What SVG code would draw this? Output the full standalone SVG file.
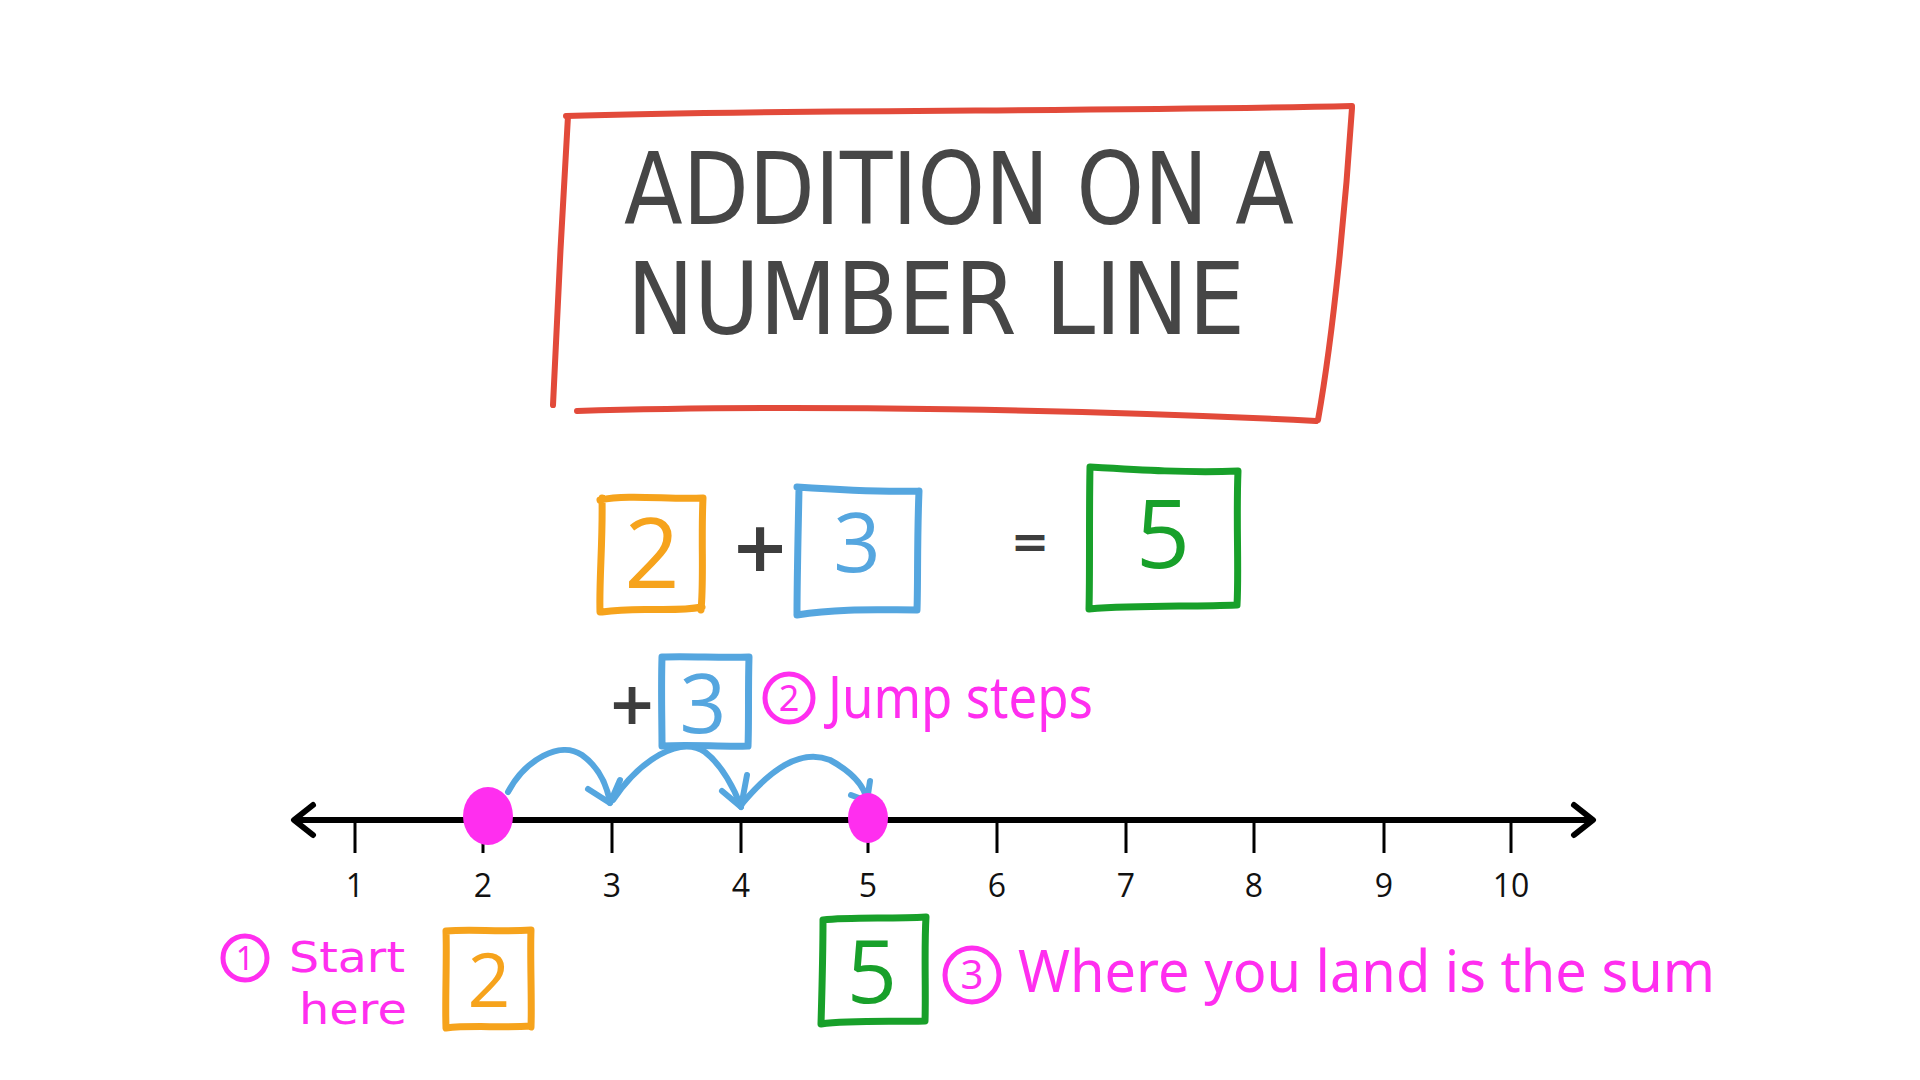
<svg xmlns="http://www.w3.org/2000/svg" width="1920" height="1080" viewBox="0 0 1920 1080">
<defs>
<style>
.hand{fill:none;stroke-linecap:round;stroke-linejoin:round}
.red{stroke:#E24A3A;stroke-width:6}
.org{stroke:#F6A31C;stroke-width:7}
.blu{stroke:#55A6DF;stroke-width:7}
.grn{stroke:#18A02A;stroke-width:7}
.mag{stroke:#FF2EEF;stroke-width:5}
.title{font-family:"DejaVu Sans",sans-serif;font-size:100px;fill:#464646}
.dig{font-family:"Open Sans","DejaVu Sans",sans-serif;text-anchor:middle}
.op{font-family:"DejaVu Sans",sans-serif;font-weight:bold;fill:#3d3d3d;text-anchor:middle}
.note{font-family:"Noto Sans","DejaVu Sans",sans-serif;fill:#FF2EEF}
.note2{font-family:"DejaVu Sans",sans-serif;fill:#FF2EEF}
.num{font-family:"Open Sans","Liberation Sans",sans-serif;font-size:32px;fill:#111;text-anchor:middle}
.jump{fill:none;stroke:#55A6DF;stroke-width:6;stroke-linecap:round;stroke-linejoin:round}
</style>
</defs>
<rect width="1920" height="1080" fill="#ffffff"/>

<g id="title">
<path class="hand red" d="M566,116 C800,109 1100,112 1352,106"/>
<path class="hand red" d="M1352,108 C1346,200 1334,330 1318,420"/>
<path class="hand red" d="M577,411 C800,404 1100,410 1316,421"/>
<path class="hand red" d="M568,116 C563,200 556,330 553,405"/>
<text class="title" x="624" y="224" textLength="670" lengthAdjust="spacingAndGlyphs">ADDITION ON A</text>
<text class="title" x="627" y="334" textLength="618" lengthAdjust="spacingAndGlyphs">NUMBER LINE</text>
</g>

<g id="eq-2">
<path class="hand org" d="M600,500 C630,494 670,500 703,498 M703,498 C701,540 704,580 701,610 M602,612 C640,606 670,613 702,607 M602,498 C603,540 599,580 600,612"/>
<text class="dig" x="652" y="588" font-size="97" fill="#F6A31C">2</text>
</g>
<g id="eq-plus">
<text class="op" x="760" y="571" font-size="70">+</text>
</g>
<g id="eq-3">
<path class="hand blu" d="M797,487 C840,490 880,492 919,491 M919,491 C917,540 918,580 917,610 M797,615 C840,608 880,610 917,610 M799,489 C798,540 797,580 797,615"/>
<text class="dig" x="857" y="572" font-size="83" fill="#55A6DF">3</text>
</g>
<g id="eq-equals">
<text class="op" x="1030" y="558" font-size="46">=</text>
</g>
<g id="eq-5">
<path class="hand grn" d="M1090,467 C1140,470 1190,473 1238,471 M1238,471 C1236,520 1239,570 1237,605 M1089,609 C1140,605 1190,607 1237,605 M1090,467 C1089,520 1090,570 1089,609"/>
<text class="dig" x="1163" y="568" font-size="95" fill="#18A02A">5</text>
</g>

<g id="step-2">
<text class="op" x="632" y="724" font-size="58">+</text>
<path class="hand blu" d="M662,657 C690,656 720,658 749,657 M749,657 C748,690 749,720 748,746 M662,746 C690,744 720,747 748,746 M662,657 C661,690 662,720 662,746"/>
<text class="dig" x="703" y="733" font-size="82" fill="#55A6DF">3</text>
<circle class="hand mag" cx="789" cy="698" r="24"/>
<text class="note" x="789" y="711" font-size="36" text-anchor="middle">2</text>
<text class="note" x="828" y="718" font-size="58" textLength="265" lengthAdjust="spacingAndGlyphs">Jump steps</text>
</g>

<g id="number-line">
<line x1="296" y1="820" x2="1591" y2="820" stroke="#000" stroke-width="6"/>
<polyline points="313,805 294,820 313,835" fill="none" stroke="#000" stroke-width="6" stroke-linecap="round" stroke-linejoin="round"/>
<polyline points="1574,805 1593,820 1574,835" fill="none" stroke="#000" stroke-width="6" stroke-linecap="round" stroke-linejoin="round"/>
<g stroke="#000" stroke-width="3">
<line x1="355" y1="820" x2="355" y2="853"/>
<line x1="483" y1="820" x2="483" y2="853"/>
<line x1="612" y1="820" x2="612" y2="853"/>
<line x1="741" y1="820" x2="741" y2="853"/>
<line x1="868" y1="820" x2="868" y2="853"/>
<line x1="997" y1="820" x2="997" y2="853"/>
<line x1="1126" y1="820" x2="1126" y2="853"/>
<line x1="1254" y1="820" x2="1254" y2="853"/>
<line x1="1384" y1="820" x2="1384" y2="853"/>
<line x1="1511" y1="820" x2="1511" y2="853"/>
</g>
<text class="num" x="355" y="897">1</text>
<text class="num" x="483" y="897">2</text>
<text class="num" x="612" y="897">3</text>
<text class="num" x="741" y="897">4</text>
<text class="num" x="868" y="897">5</text>
<text class="num" x="997" y="897">6</text>
<text class="num" x="1126" y="897">7</text>
<text class="num" x="1254" y="897">8</text>
<text class="num" x="1384" y="897">9</text>
<text class="num" x="1511" y="897">10</text>
</g>

<g id="connectors">
<path class="jump" d="M508,792 C525,760 560,740 582,755 C600,768 607,785 610,803"/>
<path class="jump" d="M588,789 L610,803 L620,780"/>
<path class="jump" d="M613,800 C640,760 680,735 705,752 C722,765 735,790 741,807"/>
<path class="jump" d="M722,791 L741,807 L747,775"/>
<path class="jump" d="M741,805 C770,770 800,748 830,760 C852,772 864,785 867,800"/>
<path class="jump" d="M851,795 L867,801 L870,781"/>
</g>

<g id="dot-start">
<ellipse cx="488" cy="816" rx="25" ry="29" fill="#FF2EEF"/>
</g>
<g id="dot-end">
<ellipse cx="868" cy="818" rx="20" ry="25" fill="#FF2EEF"/>
</g>

<g id="step-1">
<circle class="hand mag" cx="245" cy="958" r="22"/>
<text class="note" x="245" y="970" font-size="32" text-anchor="middle">1</text>
<text class="note2" x="289" y="972" font-size="43" textLength="116" lengthAdjust="spacingAndGlyphs">Start</text>
<text class="note2" x="299" y="1024" font-size="43" textLength="108" lengthAdjust="spacingAndGlyphs">here</text>
<path class="hand org" d="M446,931 C470,929 500,932 531,930 M531,930 C530,960 532,1000 531,1027 M446,1028 C470,1025 500,1028 531,1026 M446,931 C447,960 445,1000 446,1028"/>
<text class="dig" x="489" y="1007" font-size="75" fill="#F6A31C">2</text>
</g>

<g id="step-3">
<path class="hand grn" d="M823,920 C850,917 890,919 926,917 M926,917 C924,950 926,990 925,1021 M821,1024 C850,1020 890,1022 925,1021 M823,920 C823,950 822,990 821,1024"/>
<text class="dig" x="872" y="1003" font-size="88" fill="#18A02A">5</text>
<circle class="hand mag" cx="972" cy="975" r="27"/>
<text class="note" x="972" y="989" font-size="40" text-anchor="middle">3</text>
<text class="note" x="1018" y="992" font-size="58" textLength="697" lengthAdjust="spacingAndGlyphs">Where you land is the sum</text>
</g>
</svg>
